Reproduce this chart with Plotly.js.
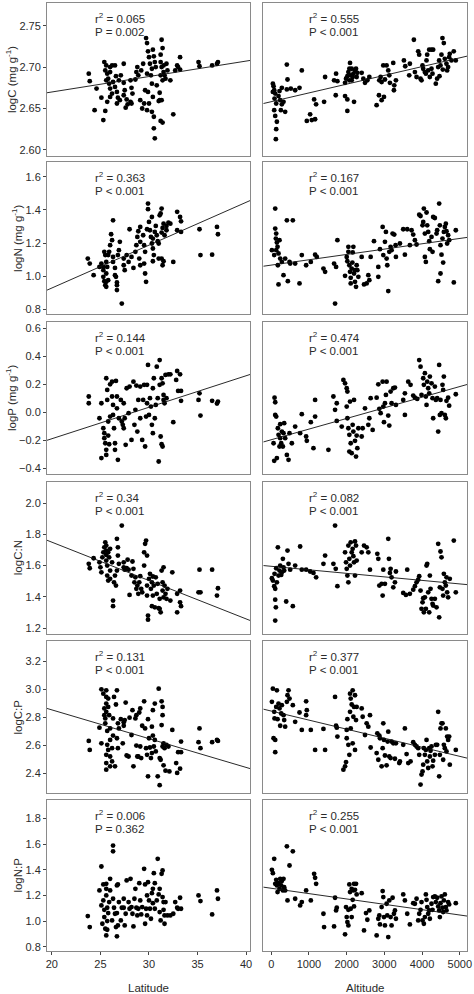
<!DOCTYPE html>
<html><head><meta charset="utf-8">
<script src="https://cdn.plot.ly/plotly-3.0.1.min.js"></script>
<style>html,body{margin:0;padding:0;background:#fff}#chart{width:474px;height:994px}</style>
</head><body><div id="chart"></div>
<script>
// ---------- DATA ----------
const latitudeTicks = [20, 25, 30, 35, 40];
const altitudeTicks = [0, 1000, 2000, 3000, 4000, 5000];
const xTitles = ['Latitude', 'Altitude'];
const yTitles = ['logC (mg g<sup>-1</sup>)', 'logN (mg g<sup>-1</sup>)', 'logP (mg g<sup>-1</sup>)', 'logC:N', 'logC:P', 'logN:P'];
const yTickValues = [[2.60,2.65,2.70,2.75],[0.8,1.0,1.2,1.4,1.6],[-0.4,-0.2,0.0,0.2,0.4,0.6],[1.2,1.4,1.6,1.8,2.0],[2.4,2.6,2.8,3.0,3.2],[0.8,1.0,1.2,1.4,1.6,1.8]];
const yRanges = [[2.593,2.777],[0.77,1.687],[-0.438,0.643],[1.164,2.138],[2.26,3.342],[0.766,1.948]];
const latRange = [19.5, 40.4];
const altRange = [-210, 5200];

// r² and P for each panel (row by row: latitude, altitude)
const r2Text = ['0.065','0.555','0.363','0.167','0.144','0.474','0.34','0.082','0.131','0.377','0.006','0.255'];
const pText = ['P = 0.002','P < 0.001','P < 0.001','P < 0.001','P < 0.001','P < 0.001','P < 0.001','P < 0.001','P < 0.001','P < 0.001','P = 0.362','P < 0.001'];
// regression intercept / slope (null = no fitted line)
const fitIntercept = [2.6326, 2.6582, 0.4116, 1.0668, -0.6376, -0.196, 2.2407, 1.5953, 3.2634, 2.8455, null, 1.2562];
const fitSlope = [0.001866, 1.059e-5, 0.02585, 3.216e-5, 0.02244, 7.58e-5, -0.02455, -2.255e-5, -0.02048, -6.45e-5, null, -4.18e-5];

// logC vs latitude
const logC_lat_x = [23.8,23.9,24.6,24.4,25.3,25.5,25.1,25.4,25.6,25.5,
25.7,25.6,25.8,26.0,26.0,26.2,25.9,26.0,26.2,25.7,
26.0,26.3,26.5,26.6,26.5,26.7,26.8,27.0,26.7,26.9,
27.1,27.4,27.4,27.5,27.4,27.7,27.8,28.1,28.2,28.3,
28.1,27.6,28.6,28.7,28.8,28.9,29.1,28.2,29.2,29.4,
29.3,29.6,29.5,29.8,29.7,29.8,29.9,30.0,30.1,30.3,
30.2,29.9,29.8,30.0,30.4,30.5,30.6,30.7,30.3,30.4,
30.3,30.5,30.5,30.6,30.8,31.0,31.1,31.2,31.3,31.4,
31.2,31.3,31.5,31.5,31.2,31.4,31.6,31.3,31.1,31.2,
31.4,31.8,31.9,31.7,32.2,32.5,32.7,32.9,33.2,33.0,
33.2,35.1,35.2,36.5,37.0,37.1];
const logC_lat_y = [2.692,2.683,2.674,2.648,2.636,2.647,2.663,2.706,2.702,2.696,
2.692,2.684,2.686,2.694,2.700,2.702,2.680,2.674,2.668,2.658,
2.664,2.682,2.676,2.689,2.702,2.670,2.663,2.660,2.656,2.684,
2.690,2.704,2.681,2.672,2.666,2.661,2.655,2.684,2.675,2.668,
2.658,2.651,2.685,2.694,2.700,2.690,2.660,2.656,2.696,2.704,
2.650,2.672,2.656,2.692,2.735,2.729,2.719,2.712,2.704,2.698,
2.690,2.670,2.648,2.656,2.721,2.713,2.706,2.700,2.680,2.664,
2.646,2.640,2.626,2.614,2.678,2.659,2.669,2.715,2.733,2.723,
2.706,2.700,2.694,2.702,2.690,2.684,2.690,2.660,2.660,2.635,
2.633,2.704,2.696,2.686,2.684,2.643,2.696,2.702,2.712,2.700,
2.697,2.706,2.701,2.702,2.704,2.706];

// logC vs altitude
const logC_alt_x = [44,62,79,106,88,132,79,106,150,132,
123,44,194,238,282,326,370,256,220,282,
414,432,414,520,635,750,811,944,1032,1076,
1164,1138,1190,1402,1429,1667,1720,1755,1711,1958,
2019,2019,2196,1958,1984,2019,2046,2072,2090,2108,
2134,2161,2178,2222,2249,2284,2266,2134,2072,2399,
2443,2487,2549,2602,2795,2857,2928,2990,2866,2901,
2928,2972,3016,3060,3104,3131,3148,3236,3263,3254,
3307,3519,3554,3677,3660,3783,3810,3854,3898,3924,
3959,3986,4012,4030,4074,4101,4118,4136,4162,4189,
4250,4295,4250,4277,4206,4365,4400,4427,4453,4489,
4515,4541,4577,4603,4647,4665,4691,4718,4735,4780,
4841,4894,4462,4550];
const logC_alt_y = [2.680,2.677,2.672,2.668,2.662,2.656,2.648,2.641,2.634,2.625,
2.613,2.670,2.665,2.660,2.655,2.658,2.646,2.648,2.671,2.675,
2.673,2.685,2.703,2.674,2.672,2.675,2.696,2.635,2.643,2.636,
2.637,2.661,2.655,2.658,2.688,2.684,2.692,2.683,2.666,2.665,
2.661,2.647,2.658,2.681,2.686,2.689,2.694,2.698,2.705,2.690,
2.684,2.688,2.692,2.696,2.698,2.693,2.688,2.698,2.684,2.693,
2.686,2.681,2.684,2.688,2.654,2.666,2.660,2.664,2.684,2.688,
2.682,2.702,2.685,2.702,2.696,2.690,2.681,2.705,2.678,2.672,
2.684,2.708,2.701,2.704,2.690,2.733,2.694,2.688,2.719,2.715,
2.686,2.684,2.702,2.698,2.694,2.692,2.708,2.715,2.696,2.721,
2.721,2.721,2.698,2.692,2.688,2.680,2.686,2.700,2.708,2.702,
2.715,2.735,2.729,2.710,2.704,2.696,2.700,2.712,2.716,2.708,
2.719,2.708,2.689,2.697];

// logN vs latitude
const logN_lat_x = [23.7,23.9,24.3,24.9,25.1,25.3,25.3,25.4,25.5,25.6,
25.6,25.7,25.6,25.5,25.4,25.8,25.9,26.0,26.1,26.2,
26.3,26.3,26.3,26.5,26.6,26.7,26.7,26.7,26.5,26.8,
26.9,27.0,27.2,27.4,27.5,27.4,27.7,27.9,28.0,28.2,
28.4,28.6,28.7,28.8,28.9,29.0,29.1,29.1,29.4,29.5,
29.6,29.5,29.6,29.7,29.8,29.9,29.9,30.0,30.1,30.2,
30.3,30.3,30.4,30.4,30.5,30.6,30.7,30.8,30.9,31.0,
31.1,31.2,31.3,31.3,31.4,31.5,31.3,31.4,31.5,31.6,
31.8,31.8,32.0,32.2,32.5,32.9,32.9,33.2,33.3,33.3,
35.2,35.3,36.5,37.0,37.1,25.3,25.8,25.6,29.1,30.4,
31.0];
const logN_lat_y = [1.106,1.076,1.006,1.056,1.076,1.036,0.996,0.970,0.946,0.966,
1.016,1.056,1.086,1.127,1.147,1.127,1.147,1.187,1.253,1.217,
1.337,1.116,1.086,1.050,0.996,0.962,0.916,0.946,1.006,1.127,
1.157,1.207,0.835,1.066,1.036,1.106,1.127,1.086,1.283,1.116,
1.050,1.147,1.187,1.237,1.271,1.106,1.207,1.297,1.247,1.187,
1.147,1.076,1.016,0.966,1.283,1.404,1.438,1.327,1.277,1.237,
1.357,1.197,1.167,1.227,1.127,1.267,1.303,1.247,1.211,1.197,
1.367,1.378,1.408,1.263,1.291,1.317,1.106,1.066,1.090,1.247,
1.303,1.277,1.323,1.317,1.086,1.277,1.388,1.357,1.331,1.267,
1.283,1.127,1.130,1.297,1.253,1.056,0.976,0.936,1.066,1.090,
1.106];

// logN vs altitude
const logN_alt_x = [18,79,106,106,132,123,150,168,132,194,
220,176,238,194,282,326,370,415,441,485,
573,503,635,750,811,926,1050,1164,1208,1385,
1429,1693,1755,1667,1720,1958,2002,2019,2046,2046,
2072,2090,2108,2108,2134,2152,2161,2178,2196,2222,
2249,2222,2266,2284,2311,2399,2461,2531,2575,2602,
2637,2725,2840,2840,2884,2955,2972,3016,3042,3060,
3078,3104,3131,3166,3192,3219,3263,3298,3307,3413,
3501,3545,3607,3677,3722,3766,3810,3854,3925,3960,
4013,4031,4048,4075,4075,4101,4119,4137,4163,4190,
4207,4251,4278,4295,4340,4384,4401,4428,4454,4472,
4489,4489,4516,4542,4560,4578,4604,4631,4648,4666,
4692,4719,4842,4895];
const logN_alt_y = [1.157,1.127,1.408,1.287,1.257,1.227,1.203,1.177,1.157,1.137,
1.217,1.066,1.106,0.950,1.086,1.006,1.106,1.337,0.970,1.086,
1.337,1.076,1.076,0.956,1.127,1.066,1.086,1.130,1.116,1.046,
1.026,0.835,1.217,1.076,1.056,1.002,1.116,1.090,1.147,1.177,
1.066,1.026,0.990,0.956,1.046,1.082,1.143,1.177,1.016,0.966,
0.936,1.036,1.066,1.036,0.996,1.116,0.950,0.956,1.006,0.976,
1.116,1.211,0.996,1.056,1.163,1.297,1.127,1.207,1.267,1.106,
1.066,0.910,1.147,1.177,1.157,1.257,1.251,1.187,1.116,1.197,
1.283,1.130,1.283,1.187,1.277,1.251,1.217,1.191,1.371,1.363,
1.307,1.327,1.408,1.257,1.116,1.086,1.384,1.307,1.267,1.211,
1.163,1.237,1.147,1.357,1.351,1.257,1.277,0.970,1.438,1.307,
1.187,1.016,1.130,1.227,1.082,1.267,1.297,1.317,1.271,1.197,
1.247,1.217,0.962,1.277];

// logP vs latitude
const logP_lat_x = [23.8,23.8,24.9,25.1,25.1,25.3,25.4,25.4,25.5,25.6,
25.6,25.6,25.7,25.7,25.8,25.8,25.9,26.0,26.0,26.2,
26.2,26.3,26.3,26.4,26.5,26.5,26.6,26.7,26.7,26.8,
26.9,27.1,27.2,27.3,27.4,27.4,27.5,27.6,27.7,27.9,
28.0,28.2,28.4,28.5,28.6,28.7,28.8,28.9,29.1,29.1,
29.3,29.4,29.5,29.6,29.7,29.8,29.8,29.9,30.0,30.1,
30.2,30.3,30.4,30.4,30.5,30.6,30.7,30.8,30.9,31.0,
31.1,31.1,31.2,31.3,31.4,31.3,31.4,31.5,31.5,31.6,
31.7,31.8,32.0,32.2,32.5,32.8,32.9,33.0,33.2,33.3,
33.3,35.1,35.2,35.3,36.5,37.0,37.1];
const logP_lat_y = [0.112,0.064,-0.043,0.064,-0.327,-0.114,-0.149,-0.185,-0.221,-0.268,
-0.304,0.242,0.159,0.088,-0.066,-0.166,-0.228,-0.031,0.199,0.218,
0.112,0.052,-0.019,-0.114,-0.221,-0.268,0.223,0.112,0.028,-0.339,
-0.043,0.088,-0.066,-0.090,-0.114,0.064,-0.043,-0.232,0.171,-0.007,
0.183,-0.197,0.218,-0.090,0.017,0.190,-0.138,0.088,-0.043,0.183,
-0.197,0.088,0.195,-0.244,-0.031,0.064,0.195,0.337,-0.019,0.100,
0.040,-0.090,-0.149,0.171,0.242,-0.043,0.052,0.325,0.100,-0.351,
0.195,0.372,-0.173,-0.228,-0.244,0.242,0.206,0.088,0.123,0.064,
0.266,0.100,0.270,0.270,-0.071,0.230,0.294,0.152,0.270,0.081,
0.152,0.088,0.135,-0.024,0.081,0.062,0.076];

// logP vs altitude
const logP_alt_x = [88,106,106,132,62,79,150,176,194,220,
238,238,265,282,309,326,344,370,415,459,
485,547,635,767,811,926,944,1050,1120,1164,
1164,1517,1649,1693,1738,1738,1870,1914,1958,2002,
2020,2002,2020,2046,2072,2072,2090,2108,2134,2160,
2178,2196,2222,2249,2266,2284,2311,2399,2425,2487,
2575,2602,2637,2690,2796,2840,2867,2902,2955,2972,
2990,3016,3042,3060,3104,3131,3166,3192,3237,3281,
3307,3501,3545,3545,3634,3695,3766,3810,3872,3925,
3960,3986,4031,4048,4075,4101,4119,4137,4163,4190,
4207,4251,4278,4295,4340,4366,4401,4428,4454,4472,
4489,4516,4542,4560,4578,4604,4631,4648,4692,4719,
4895];
const logP_alt_y = [0.104,0.071,-0.019,-0.031,-0.221,-0.346,-0.327,-0.114,-0.161,-0.244,
-0.185,-0.085,-0.221,-0.138,-0.244,-0.149,-0.078,-0.185,-0.304,-0.339,
-0.149,-0.221,-0.102,-0.149,-0.014,-0.173,-0.204,-0.071,-0.256,0.088,
-0.031,-0.268,0.112,0.017,0.064,-0.062,-0.102,0.230,0.206,0.171,
0.147,0.040,-0.043,-0.114,-0.161,-0.280,0.076,-0.221,-0.292,-0.090,
-0.138,0.088,-0.204,-0.316,-0.166,-0.256,-0.114,-0.173,-0.114,0.028,
-0.090,-0.043,0.100,-0.126,0.104,0.199,0.024,-0.007,0.218,0.040,
-0.071,0.064,0.123,0.218,-0.024,-0.095,0.147,0.064,0.171,0.176,
0.052,0.088,-0.019,0.135,0.218,0.195,0.119,0.104,0.095,0.372,
0.325,0.123,0.242,0.195,0.278,0.112,0.052,0.218,0.171,0.135,
0.254,0.206,0.100,-0.043,0.183,0.088,0.100,-0.138,0.337,-0.019,
0.088,-0.007,0.195,0.159,0.254,-0.019,-0.043,0.081,0.104,0.047,
0.128];

// logC:N vs latitude
const logCN_lat_x = [23.8,23.9,24.3,24.9,25.0,25.1,25.2,25.3,25.4,25.5,
25.6,25.6,25.6,25.6,25.7,25.7,25.8,25.8,25.9,26.0,
26.0,26.0,26.2,26.3,26.3,26.4,26.5,26.6,26.7,26.7,
26.8,26.8,26.9,27.2,27.4,27.4,27.5,27.7,27.8,27.9,
28.0,28.2,28.3,28.4,28.5,28.6,28.7,28.8,28.9,29.0,
29.1,29.2,29.3,29.5,29.5,29.6,29.7,29.8,29.8,29.8,
29.9,29.9,30.0,30.1,30.2,30.3,30.3,30.4,30.4,30.5,
30.6,30.7,30.8,30.9,31.0,31.1,31.1,31.2,31.3,31.4,
31.4,31.5,31.5,31.6,31.7,31.8,31.9,32.2,32.4,32.9,
32.9,33.2,33.2,33.3,35.1,35.2,35.3,36.5,37.0,37.1];
const logCN_lat_y = [1.611,1.583,1.647,1.621,1.589,1.557,1.653,1.685,1.717,1.749,
1.728,1.696,1.668,1.632,1.600,1.536,1.504,1.685,1.653,1.707,
1.568,1.515,1.621,1.376,1.340,1.493,1.536,1.472,1.568,1.771,
1.717,1.664,1.611,1.856,1.621,1.589,1.574,1.583,1.638,1.574,
1.412,1.536,1.626,1.579,1.493,1.525,1.451,1.472,1.419,1.493,
1.532,1.451,1.429,1.600,1.685,1.739,1.760,1.664,1.472,1.408,
1.280,1.254,1.515,1.547,1.451,1.493,1.340,1.530,1.408,1.472,
1.333,1.525,1.419,1.483,1.327,1.387,1.323,1.301,1.568,1.493,
1.440,1.397,1.589,1.472,1.419,1.387,1.451,1.376,1.557,1.301,
1.419,1.440,1.365,1.340,1.429,1.574,1.429,1.574,1.408,1.455];

// logC:N vs altitude
const logCN_alt_x = [18,44,79,88,106,106,123,106,132,150,
176,194,220,238,265,282,309,326,344,397,
432,459,503,573,635,767,811,926,1032,1120,
1191,1385,1429,1649,1693,1755,1711,1958,1984,2002,
2020,2046,2046,2072,2090,2108,2134,2160,2178,2196,
2222,2249,2266,2222,2399,2461,2531,2575,2619,2814,
2840,2867,2928,2955,2972,3016,3104,3122,3148,3166,
3192,3237,3281,3307,3501,3572,3607,3677,3766,3810,
3854,3898,3925,3960,3986,4013,4031,4048,4075,4101,
4119,4137,4163,4190,4207,4225,4251,4278,4295,4340,
4384,4428,4454,4472,4489,4516,4542,4560,4578,4604,
4631,4648,4666,4692,4736,4842,4895];
const logCN_alt_y = [1.519,1.504,1.468,1.547,1.451,1.382,1.333,1.248,1.583,1.493,
1.717,1.536,1.568,1.600,1.540,1.557,1.643,1.589,1.568,1.370,
1.696,1.611,1.574,1.340,1.600,1.722,1.574,1.574,1.562,1.553,
1.525,1.611,1.664,1.611,1.856,1.468,1.579,1.685,1.621,1.579,
1.536,1.493,1.728,1.643,1.600,1.749,1.685,1.707,1.660,1.621,
1.754,1.728,1.632,1.536,1.685,1.728,1.717,1.685,1.574,1.675,
1.643,1.472,1.483,1.408,1.574,1.483,1.771,1.643,1.553,1.579,
1.525,1.461,1.493,1.562,1.425,1.412,1.574,1.419,1.446,1.468,
1.493,1.510,1.532,1.440,1.323,1.365,1.391,1.301,1.397,1.323,
1.600,1.611,1.429,1.301,1.536,1.451,1.387,1.355,1.344,1.387,
1.333,1.739,1.269,1.461,1.690,1.653,1.451,1.408,1.547,1.493,
1.472,1.525,1.429,1.397,1.515,1.760,1.429];

// logC:P vs latitude
const logCP_lat_x = [23.8,23.9,24.9,25.1,25.1,25.3,25.4,25.4,25.5,25.5,
25.6,25.6,25.6,25.6,25.7,25.7,25.6,25.6,25.6,25.8,
25.8,25.8,25.9,26.0,26.0,26.0,26.0,26.2,26.2,26.3,
26.3,26.4,26.5,26.6,26.7,26.7,26.8,26.8,26.9,27.1,
27.3,27.4,27.4,27.5,27.6,27.7,27.9,28.0,28.2,28.3,
28.4,28.6,28.7,28.7,28.8,28.9,29.0,29.1,29.1,29.2,
29.3,29.5,29.6,29.7,29.8,29.9,29.9,30.0,30.1,30.2,
30.3,30.3,30.4,30.4,30.5,30.6,30.6,30.7,30.9,31.0,
31.1,31.1,31.2,31.3,31.4,31.3,31.4,31.4,31.5,31.5,
31.6,31.7,31.8,32.0,32.1,32.4,32.8,32.9,33.0,33.2,
33.3,33.3,35.1,35.2,35.3,36.5,37.0,37.1];
const logCP_lat_y = [2.633,2.569,2.727,2.616,3.000,2.969,2.864,2.816,2.793,2.758,
2.993,2.946,2.899,2.840,2.704,2.605,2.534,2.475,2.428,2.934,
2.875,2.569,2.816,2.722,2.640,2.522,2.452,2.581,2.487,2.793,
2.671,2.946,2.452,2.892,2.652,2.993,2.758,2.581,2.722,2.788,
2.616,2.741,2.765,2.781,2.906,2.529,2.522,2.798,2.675,2.852,
2.452,2.793,2.816,2.600,2.522,2.522,2.835,2.864,2.593,2.511,
2.741,2.915,2.722,2.581,2.534,2.381,2.788,2.652,2.586,2.511,
2.734,2.546,2.671,2.852,2.593,2.899,2.640,2.558,2.381,3.005,
2.511,2.318,2.499,2.746,2.816,2.915,2.875,2.593,2.459,2.616,
2.581,2.421,2.605,2.593,2.416,2.711,2.475,2.405,2.553,2.435,
2.628,2.553,2.624,2.722,2.581,2.624,2.640,2.633];

// logC:P vs altitude
const logCP_alt_x = [18,44,62,79,88,106,106,132,150,168,
194,220,238,265,282,326,344,370,415,432,
459,485,573,635,750,811,926,926,944,1050,
1164,1385,1429,1693,1720,1738,1755,1914,1958,1984,
2002,2002,2020,2046,2072,2090,2090,2108,2108,2134,
2160,2160,2178,2196,2222,2222,2249,2266,2399,2425,
2487,2531,2575,2619,2637,2796,2814,2840,2867,2884,
2928,2955,2972,2990,3016,3060,3087,3104,3131,3166,
3192,3237,3281,3307,3395,3413,3501,3545,3590,3634,
3695,3766,3810,3854,3898,3925,3960,3986,4013,4031,
4048,4075,4101,4119,4137,4163,4190,4207,4225,4251,
4278,4295,4340,4366,4401,4428,4454,4472,4489,4516,
4542,4560,4578,4604,4631,4648,4666,4692,4719,4736,
4895];
const logCP_alt_y = [2.911,3.005,2.652,2.840,2.793,2.553,2.640,2.875,2.993,2.788,
2.899,2.864,2.741,2.828,2.887,2.816,2.781,2.734,2.911,2.958,
2.993,2.934,2.887,2.769,2.835,2.711,2.816,2.915,2.852,2.711,
2.569,2.718,2.569,2.946,2.741,2.727,2.664,2.428,2.452,2.482,
2.652,2.711,2.788,2.605,2.534,2.840,2.969,2.934,2.722,2.892,
2.993,2.616,2.805,2.875,2.958,2.569,2.781,2.875,2.864,2.805,
2.675,2.758,2.734,2.816,2.586,2.546,2.687,2.499,2.671,2.652,
2.452,2.581,2.758,2.640,2.529,2.459,2.628,2.699,2.522,2.511,
2.628,2.616,2.506,2.616,2.475,2.487,2.605,2.722,2.539,2.475,
2.487,2.624,2.605,2.593,2.581,2.534,2.322,2.393,2.416,2.464,
2.581,2.534,2.569,2.640,2.487,2.440,2.581,2.522,2.562,2.593,
2.452,2.492,2.534,2.605,2.605,2.840,2.381,2.534,2.722,2.758,
2.758,2.499,2.605,2.581,2.722,2.558,2.664,2.640,2.664,2.464,
2.569];

// logN:P vs latitude
const logNP_lat_x = [23.7,23.9,24.9,25.1,25.1,25.2,25.3,25.3,25.4,25.4,
25.5,25.6,25.6,25.6,25.6,25.7,25.7,25.7,25.8,25.9,
26.0,26.0,26.2,26.3,26.3,26.3,26.4,26.5,26.6,26.7,
26.7,26.7,26.8,26.8,26.9,27.1,27.2,27.4,27.4,27.5,
27.6,27.7,27.9,28.0,28.1,28.2,28.3,28.4,28.5,28.6,
28.7,28.8,28.9,29.0,29.1,29.2,29.3,29.5,29.6,29.6,
29.7,29.8,29.8,29.9,30.0,30.1,30.2,30.3,30.4,30.4,
30.5,30.6,30.6,30.8,30.9,31.0,31.1,31.1,31.2,31.3,
31.4,31.4,31.5,31.5,31.6,31.6,31.7,31.9,32.2,32.5,
32.7,32.9,33.0,33.2,33.3,35.1,35.3,36.5,37.0,37.1];
const logNP_lat_y = [1.039,0.953,1.239,1.426,1.122,0.979,1.286,1.161,1.088,1.031,
0.940,0.888,1.252,1.291,1.200,1.104,1.000,0.932,1.062,1.148,
1.330,1.239,1.005,1.174,1.590,1.545,1.104,1.057,0.953,0.881,
1.278,1.062,1.286,0.966,1.148,1.005,1.104,1.174,1.104,0.966,
1.057,1.317,1.148,1.096,1.330,1.109,1.057,0.958,1.174,1.252,
1.104,1.044,1.096,1.296,1.161,1.052,1.109,1.408,1.286,0.979,
1.096,1.200,1.044,1.304,1.161,1.096,1.018,1.218,1.140,1.252,
1.374,1.296,1.096,1.161,1.486,1.208,1.252,1.070,1.005,1.369,
1.395,1.187,1.148,1.088,0.979,1.044,1.148,1.044,1.044,1.057,
1.148,1.104,1.096,1.182,1.096,1.200,1.156,1.052,1.239,1.174];

// logN:P vs altitude
const logNP_alt_x = [18,44,79,106,132,150,168,194,220,238,
265,282,309,326,344,370,415,432,485,573,
635,767,811,926,1050,1138,1164,1191,1385,1402,
1667,1693,1720,1738,1958,1984,2002,2020,2046,2046,
2072,2090,2108,2134,2134,2160,2178,2196,2222,2249,
2266,2196,2399,2461,2514,2549,2602,2796,2840,2867,
2884,2928,2955,2972,2990,3016,3060,3078,3104,3131,
3166,3192,3219,3254,3281,3307,3501,3545,3607,3677,
3766,3810,3854,3898,3925,3960,3986,4013,4048,4075,
4101,4119,4137,4163,4190,4207,4251,4278,4295,4340,
4366,4401,4428,4454,4472,4489,4516,4542,4560,4578,
4604,4631,4648,4692,4719,4895];
const logNP_alt_y = [1.400,1.374,1.486,1.291,1.322,1.278,1.226,1.296,1.252,1.330,
1.278,1.312,1.239,1.330,1.265,1.239,1.584,1.161,1.434,1.545,
1.174,1.122,1.148,1.239,1.161,1.369,1.338,1.291,1.057,0.953,
0.958,1.182,1.083,1.104,0.896,1.109,1.031,0.992,0.966,1.088,
1.286,1.226,1.096,1.031,1.252,1.166,1.239,1.291,1.244,1.291,
1.208,1.114,1.218,0.927,1.062,1.010,1.083,0.888,1.018,1.044,
0.974,1.109,1.234,1.187,1.031,0.966,1.135,1.044,0.875,1.161,
1.031,0.966,1.182,1.057,1.083,1.018,1.208,1.161,1.057,0.974,
1.140,1.135,1.174,1.005,1.057,1.088,1.148,1.005,0.979,1.031,
1.208,1.166,1.109,1.057,1.083,1.018,1.135,1.088,1.187,1.192,
1.148,1.182,1.114,1.083,1.031,1.140,1.192,1.104,1.070,1.161,
1.208,1.109,1.083,1.148,1.130,1.140];

const panelX = [logC_lat_x, logC_alt_x, logN_lat_x, logN_alt_x, logP_lat_x, logP_alt_x,
                logCN_lat_x, logCN_alt_x, logCP_lat_x, logCP_alt_x, logNP_lat_x, logNP_alt_x];
const panelY = [logC_lat_y, logC_alt_y, logN_lat_y, logN_alt_y, logP_lat_y, logP_alt_y,
                logCN_lat_y, logCN_alt_y, logCP_lat_y, logCP_alt_y, logNP_lat_y, logNP_alt_y];

// ---------- LAYOUT ----------
const W = 474, H = 994;
const colPx = [[47, 250], [263.3, 467.3]];
const rowPx = [[3.3,155.7],[162.3,314.3],[322,473.7],[481.5,633.7],[641.3,793.3],[799.7,951]];
const FONT = 'Liberation Sans, Arial, Helvetica, sans-serif';
const TXT = '#2b2b2b';
const FRAME = '#8a8a8a';

const traces = [];
const layout = {
  width: W, height: H,
  margin: {l: 0, r: 0, t: 0, b: 0},
  paper_bgcolor: '#ffffff', plot_bgcolor: '#ffffff',
  showlegend: false,
  font: {family: FONT, size: 11, color: TXT},
  annotations: []
};

for (let i = 0; i < 12; i++) {
  const r = Math.floor(i / 2), c = i % 2, n = i + 1;
  const xa = n === 1 ? 'x' : 'x' + n;
  const ya = n === 1 ? 'y' : 'y' + n;
  const xRange = c === 0 ? latRange : altRange;
  traces.push({
    type: 'scatter', mode: 'markers', x: panelX[i], y: panelY[i],
    xaxis: xa, yaxis: ya,
    marker: {color: '#000', size: 4.8, line: {width: 0}},
    hoverinfo: 'skip', cliponaxis: true
  });
  if (fitIntercept[i] !== null) {
    traces.push({
      type: 'scatter', mode: 'lines', x: xRange.slice(),
      y: xRange.map(v => fitIntercept[i] + fitSlope[i] * v),
      xaxis: xa, yaxis: ya,
      line: {color: '#111', width: 0.9}, hoverinfo: 'skip'
    });
  }
  const bottom = r === 5;
  const xaxis = {
    domain: [colPx[c][0] / W, colPx[c][1] / W],
    range: xRange, anchor: ya,
    showline: true, mirror: true, linecolor: FRAME, linewidth: 1,
    showgrid: false, zeroline: false,
    ticks: bottom ? 'outside' : '', ticklen: 3, tickcolor: '#444', tickwidth: 1,
    tickvals: c === 0 ? latitudeTicks : altitudeTicks,
    showticklabels: bottom,
    tickfont: {family: FONT, size: 11, color: TXT}
  };
  if (bottom) xaxis.title = {text: xTitles[c], font: {family: FONT, size: 11.5, color: TXT}, standoff: 14};
  layout['xaxis' + (n === 1 ? '' : n)] = xaxis;
  const yaxis = {
    domain: [1 - rowPx[r][1] / H, 1 - rowPx[r][0] / H],
    range: yRanges[r], anchor: xa,
    showline: true, mirror: true, linecolor: FRAME, linewidth: 1,
    showgrid: false, zeroline: false,
    ticks: c === 0 ? 'outside' : '', ticklen: 3, tickcolor: '#444', tickwidth: 1,
    tickvals: yTickValues[r],
    tickformat: r === 0 ? '.2f' : '.1f',
    showticklabels: c === 0,
    tickfont: {family: FONT, size: 11, color: TXT}
  };
  if (c === 0) yaxis.title = {text: yTitles[r], font: {family: FONT, size: 11.5, color: TXT}, standoff: 0};
  layout['yaxis' + (n === 1 ? '' : n)] = yaxis;
  const ax = c === 0 ? 0.228 : 0.214;
  layout.annotations.push({
    xref: xa + ' domain', yref: ya + ' domain', x: ax, y: 1 - 15 / 152,
    xanchor: 'left', yanchor: 'middle', showarrow: false,
    text: 'r<sup>2</sup> = ' + r2Text[i], font: {family: FONT, size: 11.5, color: TXT}
  });
  layout.annotations.push({
    xref: xa + ' domain', yref: ya + ' domain', x: ax, y: 1 - 29 / 152,
    xanchor: 'left', yanchor: 'middle', showarrow: false,
    text: pText[i], font: {family: FONT, size: 11.5, color: TXT}
  });
}

Plotly.newPlot('chart', traces, layout, {staticPlot: true, displayModeBar: false});
</script>
</body></html>
